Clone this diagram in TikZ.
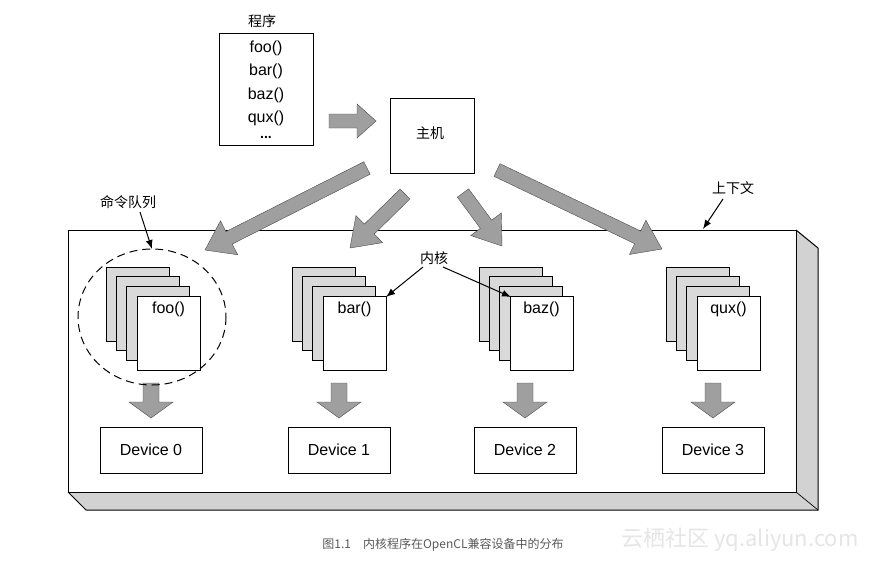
\documentclass[tikz,border=0pt]{standalone}
\usepackage{fontspec}
\setmainfont{Liberation Sans}
\newfontfamily\cjk{Noto Sans CJK SC}
\usetikzlibrary{calc,arrows.meta}
\tikzset{
  box/.style={draw,line width=1pt,fill=white},
  page/.style={draw,line width=0.9pt,fill=gray!30},
  lbl/.style={font=\fontsize{16}{18}\selectfont},
  cn/.style={font=\cjk\fontsize{14}{16}\selectfont},
  callout/.style={-{Latex[length=9pt,width=7pt]},line width=1pt},
  barrow/.style={fill=gray!75,draw=gray!60!black,line width=0.4pt}
}
% block arrow: #1 tail, #2 tip, #3 half shaft, #4 half head, #5 head length
\newcommand\blkarrow[5]{%
  \coordinate (ba-h) at ($(#2)!#5 pt!(#1)$);
  \path[barrow] ($(#1)!#3 pt!90:(#2)$) -- ($(ba-h)!#3 pt!90:(#2)$) -- ($(ba-h)!#4 pt!90:(#2)$) -- (#2)
   -- ($(ba-h)!#4 pt!-90:(#2)$) -- ($(ba-h)!#3 pt!-90:(#2)$) -- ($(#1)!#3 pt!-90:(#2)$) -- cycle;}
\newcommand\stackpages[2]{% #1 x of back page, #2 label
  \foreach \i in {0,1,2}{\draw[page] (#1+10.3*\i,267+9.7*\i) rectangle ++(63,74);}
  \draw[box,line width=0.9pt] (#1+31,296) rectangle ++(63,74);
  \node[lbl] at (#1+62.5,309) {#2};}
\begin{document}
\begin{tikzpicture}[x=1pt,y=-1pt]
\useasboundingbox (0,0) rectangle (885,565);
% context slab
\fill[gray!35] (796,230) -- (818,248) -- (818,510) -- (796,492) -- cycle;
\fill[gray!35] (68,492) -- (86,510) -- (818,510) -- (796,492) -- cycle;
\draw[line width=1pt] (796,230) -- (818,248) -- (818,510) -- (86,510) -- (68,492);
\draw[line width=0.7pt] (796,492) -- (818,510);
\draw[box] (68,230) rectangle (796,492);
% program
\node[cn] (prog) at (262,21) {程序};
\draw[box] (219,33) rectangle (313,145);
\node[lbl] (f1) at (266,48) {foo()};
\node[lbl] (f2) at (266,71) {bar()};
\node[lbl] (f3) at (266,95) {baz()};
\node[lbl] (f4) at (266,118) {qux()};
\node[font=\bfseries\fontsize{14}{14}\selectfont,inner sep=0pt] (f5) at (266,137) {...};
% host
\node[box,minimum width=84pt,minimum height=75pt] (host) at (432,135.5) {};
\node[cn] at (430,133) {主机};
\coordinate (pa) at (329,121); \coordinate (pb) at (376,121);
\blkarrow{pa}{pb}{7}{17}{19}
% big arrows
\coordinate (a1) at (367,168); \coordinate (b1) at (205,250);
\blkarrow{a1}{b1}{7}{19}{27}
\coordinate (a2) at (405,194); \coordinate (b2) at (350,248);
\blkarrow{a2}{b2}{7}{19}{27}
\coordinate (a3) at (463,193); \coordinate (b3) at (502,246);
\blkarrow{a3}{b3}{7}{19}{27}
\coordinate (a4) at (497,170); \coordinate (b4) at (662,249);
\blkarrow{a4}{b4}{7}{19}{27}
% stacks
\stackpages{106}{foo()}
\stackpages{292}{bar()}
\stackpages{479}{baz()}
\stackpages{666}{qux()}
% down arrows and devices
\foreach \cx/\n in {151/0,339/1,525/2,713/3}{
  \coordinate (d\n a) at (\cx,383); \coordinate (d\n b) at (\cx,418);
  \blkarrow{d\n a}{d\n b}{8}{22}{16}
  \node[box,lbl,minimum width=102pt,minimum height=46pt] (dev\n) at (\cx,450) {Device \n};
}
% queue circle
\draw[dashed,dash pattern=on 8pt off 5pt,line width=1pt] (152,317) ellipse (74 and 68);
\node[cn] (q) at (128,202) {命令队列};
\coordinate (qe) at (152,249);
\draw[callout] (140,212) -- (qe);
% kernel
\node[cn] (k) at (434,258) {内核};
\coordinate (k1) at (386,297); \coordinate (k2) at (511,297);
\draw[callout] (423,267) -- (k1);
\draw[callout] (443,267) -- (k2);
% context label
\node[cn] (ctx) at (733,188) {上下文};
\coordinate (ce) at (703,229);
\draw[callout] (723,199) -- (ce);
% caption
\node[cn,font=\cjk\fontsize{12}{14}\selectfont,text=gray!70!black] (cap) at (443,545) {图1.1\quad 内核程序在OpenCL兼容设备中的分布};
\node[font=\cjk\fontsize{22}{24}\selectfont,text=gray!20] (wm) at (740,540) {云栖社区 yq.aliyun.com};
\end{tikzpicture}
\end{document}
